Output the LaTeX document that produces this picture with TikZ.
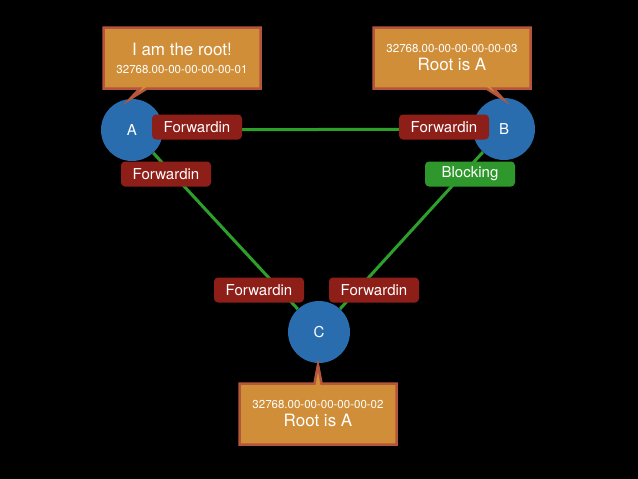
\documentclass[tikz,border=0pt]{standalone}
\usepackage{fontspec}
\setmainfont{TeX Gyre Heros}
\usetikzlibrary{positioning, shapes.callouts, backgrounds}
\definecolor{bridgeblue}{HTML}{2A6DAE}
\definecolor{boxorange}{HTML}{D18E38}
\definecolor{boxedge}{HTML}{B4553C}
\definecolor{fwdred}{HTML}{8E1E18}
\definecolor{blkgreen}{HTML}{2F982C}
\definecolor{linkgreen}{HTML}{2DA02A}

\begin{document}
\begin{tikzpicture}[x=1pt, y=-1pt,
	bridge/.style={circle, fill=bridgeblue, minimum size=62pt, inner sep=0pt, text=white, font=\fontsize{15}{17}\selectfont},
	state/.style={rounded corners=4pt, minimum width=90pt, minimum height=25pt, inner sep=0pt, text=white, font=\fontsize{15}{17}\selectfont},
	info/.style={rectangle callout, fill=boxorange, draw=boxedge, line width=2.5pt, minimum width=157pt, minimum height=61pt, align=center, text=white, inner sep=0pt, font=\fontsize{14}{18}\selectfont},
	big/.style={font=\fontsize{17}{20}\selectfont},
	link/.style={draw=linkgreen, line width=3pt}]
	\useasboundingbox (0,0) rectangle (638,479);

	\node[bridge] (A) at (132,130) {A};
	\node[bridge] (B) at (504,129) {B};
	\node[bridge] (C) at (319,332) {C};

	\begin{scope}[on background layer]
		\fill[black] (0,0) rectangle (638,479);
		\draw[link] (A) -- (B);
		\draw[link] (A) -- (C);
		\draw[link] (B) -- (C);
	\end{scope}

	\node[state, fill=fwdred] (ab) at (197,127) {Forwardin};
	\node[state, fill=fwdred] (ac) at (166,174) {Forwardin};
	\node[state, fill=fwdred] (ba) at (444,127) {Forwardin};
	\node[state, fill=blkgreen] (bc) at (470,174) {Blocking};
	\node[state, fill=fwdred] (ca) at (259,290) {Forwardin};
	\node[state, fill=fwdred] (cb) at (374,290) {Forwardin};

	\node[info, callout absolute pointer={(130,99)}] (rootA) at (182,58)
		{{\fontsize{17}{20}\selectfont I am the root!}\\{\fontsize{11.5}{14}\selectfont 32768.00-00-00-00-00-01}};
	\node[info, callout absolute pointer={(503,99)}] (rootB) at (452,58)
		{{\fontsize{11.5}{14}\selectfont 32768.00-00-00-00-00-03}\\{\fontsize{17}{20}\selectfont Root is A}};
	\node[info, callout absolute pointer={(318,365)}] (rootC) at (318,414)
		{{\fontsize{11.5}{14}\selectfont 32768.00-00-00-00-00-02}\\{\fontsize{17}{20}\selectfont Root is A}};
\end{tikzpicture}
\end{document}
